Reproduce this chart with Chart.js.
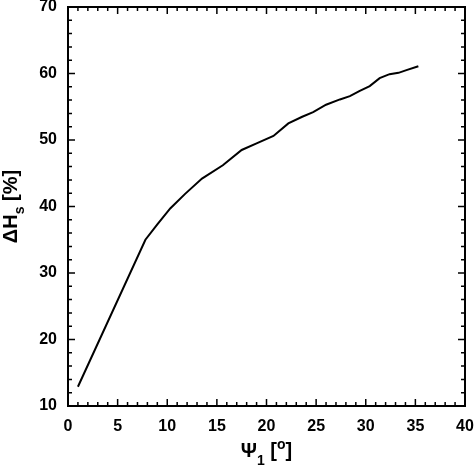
<!DOCTYPE html>
<html>
<head>
<meta charset="utf-8">
<script src="https://cdn.jsdelivr.net/npm/chart.js@4/dist/chart.umd.min.js"></script>
<style>
  html, body { margin: 0; padding: 0; background: #fff; }
  #wrap { width: 474px; height: 467px; }
</style>
</head>
<body>
<div id="wrap"><canvas id="myChart"></canvas></div>
<script>
// values
var psi = [1.0, 7.8, 9.0, 10.3, 11.8, 13.5, 15.6, 17.5, 19.0, 20.7, 22.2, 23.6, 24.7, 26.0, 27.4, 28.4, 29.4, 30.4, 31.4, 32.4, 33.3, 34.1, 35.3];
var dHs = [12.9, 35.0, 37.3, 39.7, 41.9, 44.2, 46.2, 48.5, 49.5, 50.6, 52.5, 53.5, 54.2, 55.3, 56.1, 56.6, 57.4, 58.1, 59.3, 59.9, 60.1, 60.5, 61.1];
var xTicks = [0, 5, 10, 15, 20, 25, 30, 35, 40];
var yTicks = [10, 20, 30, 40, 50, 60, 70];

var FONT = '"Liberation Sans", Arial, Helvetica, sans-serif';

var points = psi.map(function(v, i) { return {x: v, y: dHs[i]}; });

// frame, inward ticks and the two axis titles (with sub/superscripts)
var framePlugin = {
  id: 'frame',
  afterDraw: function(chart) {
    var ctx = chart.ctx;
    var a = chart.chartArea;
    var x = chart.scales.x, y = chart.scales.y;
    ctx.save();
    ctx.strokeStyle = '#000';
    ctx.lineWidth = 2;
    ctx.strokeRect(a.left, a.top, a.right - a.left, a.bottom - a.top);

    ctx.lineWidth = 1.5;
    ctx.beginPath();
    for (var v = x.min; v <= x.max; v += 1) {
      var px = x.getPixelForValue(v);
      var len = (v % 5 === 0) ? 7 : 4;
      ctx.moveTo(px, a.bottom); ctx.lineTo(px, a.bottom - len);
      ctx.moveTo(px, a.top); ctx.lineTo(px, a.top + len);
    }
    for (var w = y.min; w <= y.max; w += 2) {
      var py = y.getPixelForValue(w);
      var l2 = (w % 10 === 0) ? 7 : 4;
      ctx.moveTo(a.left, py); ctx.lineTo(a.left + l2, py);
      ctx.moveTo(a.right, py); ctx.lineTo(a.right - l2, py);
    }
    ctx.stroke();

    ctx.fillStyle = '#000';
    ctx.textBaseline = 'alphabetic';
    ctx.textAlign = 'left';

    // x title: Psi_1 [deg]
    var big = 'bold 20px ' + FONT, small = 'bold 14px ' + FONT;
    ctx.font = big;
    var wPsi = ctx.measureText('\u03A8').width;
    var wB1 = ctx.measureText(' [').width;
    var wB2 = ctx.measureText(']').width;
    ctx.font = small;
    var w1 = ctx.measureText('1').width;
    var wo = ctx.measureText('o').width;
    var total = wPsi + w1 + wB1 + wo + wB2;
    var cx = (a.left + a.right) / 2 - total / 2;
    var by = 457;
    ctx.font = big; ctx.fillText('\u03A8', cx, by); cx += wPsi;
    ctx.font = small; ctx.fillText('1', cx, by + 8); cx += w1;
    ctx.font = big; ctx.fillText(' [', cx, by); cx += wB1;
    ctx.font = small; ctx.fillText('o', cx, by - 8); cx += wo;
    ctx.font = big; ctx.fillText(']', cx, by);

    // y title: Delta H_s [%]
    ctx.translate(17, (a.top + a.bottom) / 2);
    ctx.rotate(-Math.PI / 2);
    ctx.font = big;
    var wDH = ctx.measureText('\u0394H').width;
    var wP = ctx.measureText(' [%]').width;
    ctx.font = small;
    var ws = ctx.measureText('s').width;
    var tot2 = wDH + ws + wP;
    var sx = -tot2 / 2;
    ctx.font = big; ctx.fillText('\u0394H', sx, 0); sx += wDH;
    ctx.font = small; ctx.fillText('s', sx, 7); sx += ws;
    ctx.font = big; ctx.fillText(' [%]', sx, 0);
    ctx.restore();
  }
};

var ctx = document.getElementById('myChart');
var myChart = new Chart(ctx, {
  type: 'line',
  data: {
    datasets: [{
      label: 'dHs',
      data: points,
      borderColor: '#000',
      borderWidth: 2,
      pointRadius: 0,
      tension: 0,
      fill: false
    }]
  },
  options: {
    responsive: true,
    maintainAspectRatio: false,
    animation: false,
    layout: { padding: { top: 7, right: 9, bottom: 0, left: 0 } },
    plugins: { legend: { display: false }, tooltip: { enabled: false } },
    scales: {
      x: {
        type: 'linear',
        min: 0, max: 40,
        afterBuildTicks: function(s) { s.ticks = xTicks.map(function(v) { return {value: v}; }); },
        afterFit: function(s) { s.height = 61; s.paddingRight = 0; s.paddingLeft = 0; },
        grid: { display: false, drawTicks: false },
        border: { display: false },
        ticks: { color: '#000', padding: 11, maxRotation: 0, font: { family: FONT, size: 16, weight: 'bold' } }
      },
      y: {
        type: 'linear',
        min: 10, max: 70,
        afterBuildTicks: function(s) { s.ticks = yTicks.map(function(v) { return {value: v}; }); },
        afterFit: function(s) { s.width = 68; s.paddingTop = 0; s.paddingBottom = 0; },
        grid: { display: false, drawTicks: false },
        border: { display: false },
        ticks: { color: '#000', padding: 11, font: { family: FONT, size: 16, weight: 'bold' } }
      }
    }
  },
  plugins: [framePlugin]
});
</script>
</body>
</html>
